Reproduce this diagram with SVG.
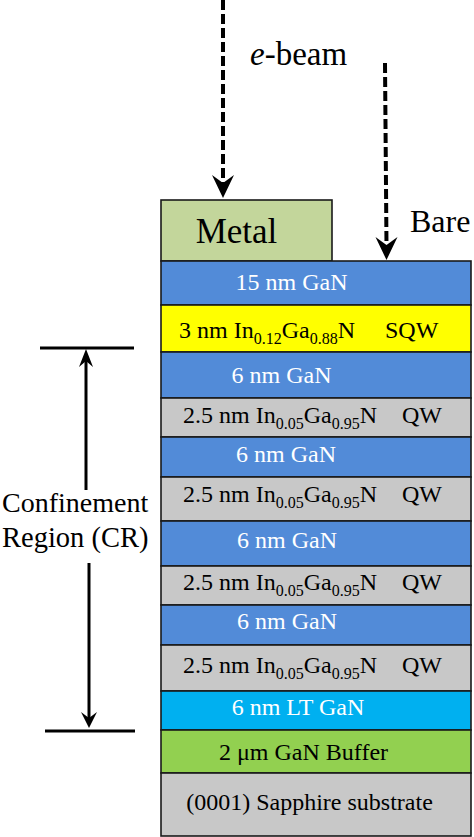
<svg xmlns="http://www.w3.org/2000/svg" width="474" height="837" viewBox="0 0 474 837">
<style>
.t{font-family:'Liberation Serif','Times New Roman',serif;}
.lay{stroke:#1a1a1a;stroke-width:1.6;}
.gan{fill:#528bd8;}
.qw{fill:#c8c8c8;}
.w{fill:#ffffff;font-size:24px;}
.b{fill:#000000;font-size:24px;}
.sub{font-size:16px;}
.dash{stroke:#000;stroke-width:4;stroke-dasharray:10 4;fill:none;}
.solid{stroke:#000;stroke-width:3;fill:none;}
</style>
<rect width="474" height="837" fill="#ffffff"/>
<g class="t">
<g id="metal">
<rect x="161" y="200" width="171" height="61" fill="#c3d69b" class="lay"/>
<text x="236.5" y="243" font-size="35" text-anchor="middle">Metal</text>
</g>

<g id="layers">
<g id="l-15gan"><rect x="161" y="261" width="310" height="44" class="lay gan"/><text class="w" x="291.5" y="290" text-anchor="middle">15 nm GaN</text></g>
<g id="l-sqw"><rect x="161" y="305" width="310" height="47" class="lay" fill="#ffff00"/><text class="b" x="179" y="338">3 nm In<tspan class="sub" dy="6">0.12</tspan><tspan dy="-6">Ga</tspan><tspan class="sub" dy="6">0.88</tspan><tspan dy="-6">N</tspan><tspan x="385">SQW</tspan></text></g>
<g id="l-gan1"><rect x="161" y="352" width="310" height="46" class="lay gan"/><text class="w" x="281.5" y="383" text-anchor="middle">6 nm GaN</text></g>
<g id="l-qw1"><rect x="161" y="398" width="310" height="39" class="lay qw"/><text class="b" x="183" y="423">2.5 nm In<tspan class="sub" dy="6">0.05</tspan><tspan dy="-6">Ga</tspan><tspan class="sub" dy="6">0.95</tspan><tspan dy="-6">N</tspan><tspan x="402">QW</tspan></text></g>
<g id="l-gan2"><rect x="161" y="437" width="310" height="40" class="lay gan"/><text class="w" x="286" y="462" text-anchor="middle">6 nm GaN</text></g>
<g id="l-qw2"><rect x="161" y="477" width="310" height="44" class="lay qw"/><text class="b" x="183" y="502">2.5 nm In<tspan class="sub" dy="6">0.05</tspan><tspan dy="-6">Ga</tspan><tspan class="sub" dy="6">0.95</tspan><tspan dy="-6">N</tspan><tspan x="402">QW</tspan></text></g>
<g id="l-gan3"><rect x="161" y="521" width="310" height="45" class="lay gan"/><text class="w" x="287" y="548" text-anchor="middle">6 nm GaN</text></g>
<g id="l-qw3"><rect x="161" y="566" width="310" height="39" class="lay qw"/><text class="b" x="183" y="590">2.5 nm In<tspan class="sub" dy="6">0.05</tspan><tspan dy="-6">Ga</tspan><tspan class="sub" dy="6">0.95</tspan><tspan dy="-6">N</tspan><tspan x="402">QW</tspan></text></g>
<g id="l-gan4"><rect x="161" y="605" width="310" height="40" class="lay gan"/><text class="w" x="287" y="629" text-anchor="middle">6 nm GaN</text></g>
<g id="l-qw4"><rect x="161" y="645" width="310" height="46" class="lay qw"/><text class="b" x="183" y="673">2.5 nm In<tspan class="sub" dy="6">0.05</tspan><tspan dy="-6">Ga</tspan><tspan class="sub" dy="6">0.95</tspan><tspan dy="-6">N</tspan><tspan x="402">QW</tspan></text></g>
<g id="l-ltgan"><rect x="161" y="691" width="310" height="39" class="lay" fill="#00b0f0"/><text class="w" x="298" y="715" text-anchor="middle">6 nm LT GaN</text></g>
<g id="l-buffer"><rect x="161" y="730" width="310" height="43" class="lay" fill="#92d050"/><text class="b" x="303.5" y="760" text-anchor="middle">2 μm GaN Buffer</text></g>
<g id="l-sapphire"><rect x="161" y="773" width="310" height="63" class="lay qw"/><text class="b" x="309.5" y="810" text-anchor="middle">(0001) Sapphire substrate</text></g>
</g>

<g id="labels">
<text x="250" y="65" font-size="33"><tspan font-style="italic">e</tspan>-beam</text>
<text x="410" y="232" font-size="32">Bare</text>
<text x="2" y="512" font-size="28">Confinement</text>
<text x="2" y="547" font-size="28.5">Region (CR)</text>
</g>
</g>

<g id="connectors">
<line class="dash" x1="223" y1="0" x2="223" y2="184"/>
<path d="M212,175 L223,183 L234,175 L223,198 Z" fill="#000"/>
<line class="dash" x1="385" y1="63" x2="386.5" y2="246"/>
<path d="M375.5,237 L386.5,245 L397.5,237 L386.5,260 Z" fill="#000"/>
<line class="solid" x1="40" y1="348" x2="134" y2="348"/>
<line class="solid" x1="45" y1="731" x2="135" y2="731"/>
<line class="solid" x1="86" y1="360" x2="86" y2="490"/>
<path d="M79,367 L86,361 L93,367 L86,349 Z" fill="#000"/>
<line class="solid" x1="89" y1="563" x2="89" y2="718"/>
<path d="M81,712 L89,718 L97,712 L89,728 Z" fill="#000"/>
</g>
</svg>
